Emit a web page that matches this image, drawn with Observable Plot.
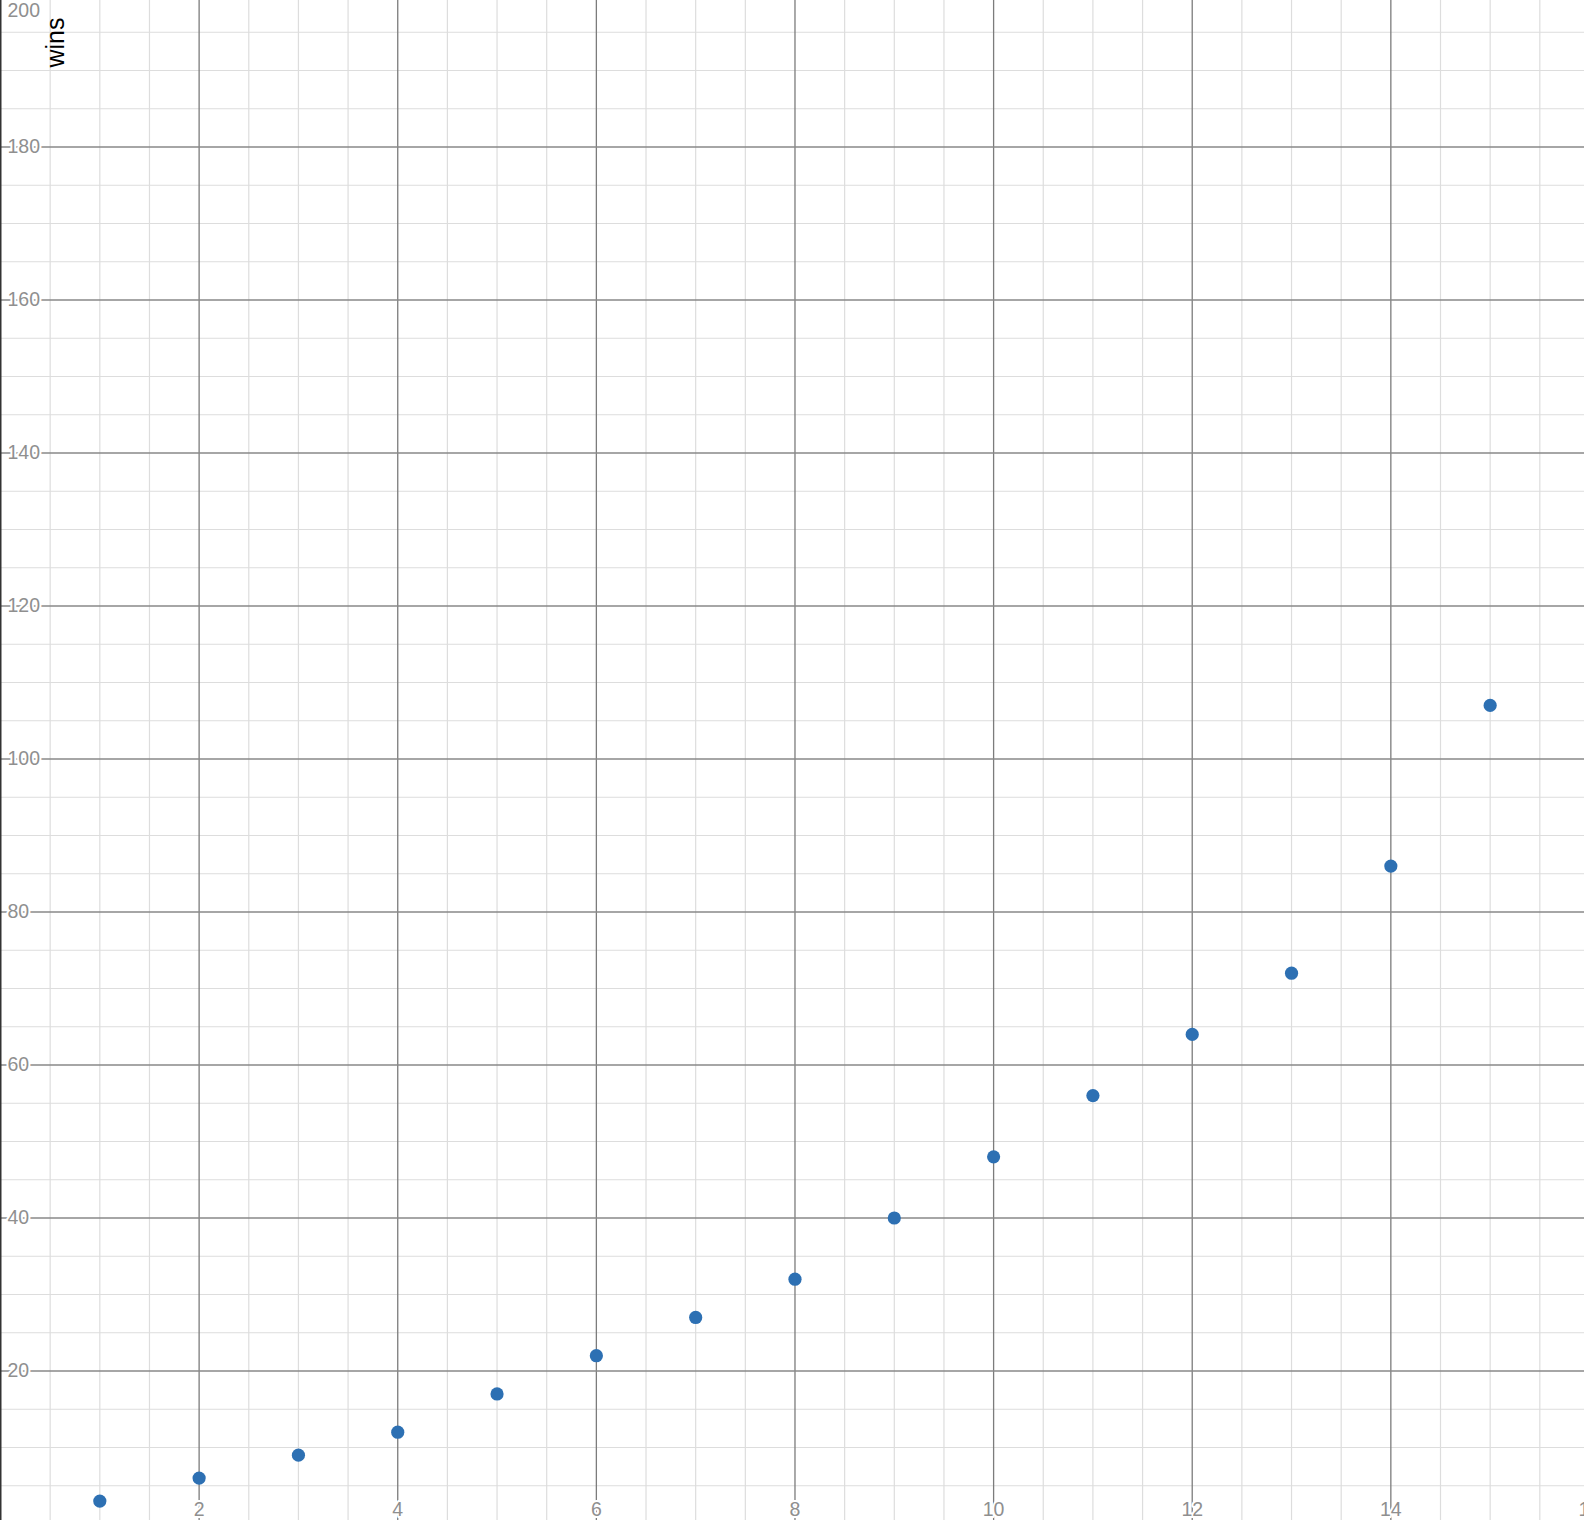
<!DOCTYPE html>
<html>
<head>
<meta charset="utf-8">
<script src="https://cdn.jsdelivr.net/npm/d3@7"></script>
<script src="https://cdn.jsdelivr.net/npm/@observablehq/plot@0.6"></script>
<style>
  html, body { margin: 0; padding: 0; background: #fff; overflow: hidden; }
  #chart svg { display: block; }
</style>
</head>
<body>
<div id="chart"></div>
<script>
// Data
const games = [1, 2, 3, 4, 5, 6, 7, 8, 9, 10, 11, 12, 13, 14, 15];
const wins  = [3, 6, 9, 12, 17, 22, 27, 32, 40, 48, 56, 64, 72, 86, 107];

// Tick labels
const xTickLabels = [2, 4, 6, 8, 10, 12, 14, 16];
const yTickLabels = [20, 40, 60, 80, 100, 120, 140, 160, 180, 200];

// Grid definitions
const xMinorGrid = d3.range(0.5, 16.01, 0.5).filter(v => v % 2 !== 0);
const yMinorGrid = d3.range(5, 201, 5).filter(v => v % 20 !== 0);
const xMajorGrid = [2, 4, 6, 8, 10, 12, 14, 16];
const yMajorGrid = yTickLabels;

const points = games.map((g, i) => ({game: g, wins: wins[i]}));

const W = 1584, H = 1520;
const xDomain = [0, 15.95];
const yDomain = [0.46, 199.15];

const labelFont = "Liberation Sans, Arial, Helvetica, sans-serif";
const labelColor = "#8f8f8f";

const chart = Plot.plot({
  width: W,
  height: H,
  margin: 0,
  style: {fontFamily: labelFont, background: "#fff"},
  x: {domain: xDomain, axis: null},
  y: {domain: yDomain, axis: null},
  marks: [
    Plot.ruleX(xMinorGrid, {stroke: "#dddddd", strokeWidth: 1.2}),
    Plot.ruleY(yMinorGrid, {stroke: "#dddddd", strokeWidth: 1.2}),
    Plot.ruleX(xMajorGrid, {stroke: "#7c7c7c", strokeWidth: 1.3}),
    Plot.ruleY(yMajorGrid, {stroke: "#888888", strokeWidth: 1.3}),
    Plot.ruleX([0], {stroke: "#333", strokeWidth: 2}),
    // y tick labels (clamped inside the view)
    Plot.text(yTickLabels, {
      x: 0,
      y: d => Math.min(d, yDomain[1] - 1.4),
      text: d => String(d),
      textAnchor: "start",
      dx: 7,
      fontSize: 19.5,
      fill: labelColor,
      stroke: "white",
      strokeWidth: 4,
      paintOrder: "stroke"
    }),
    // x tick labels clamped to the bottom edge
    Plot.text(xTickLabels, {
      x: d => d,
      frameAnchor: "bottom",
      lineAnchor: "bottom",
      dy: -5,
      text: d => String(d),
      fontSize: 19.5,
      fill: labelColor,
      stroke: "white",
      strokeWidth: 4,
      paintOrder: "stroke"
    }),
    Plot.dot(points, {x: "game", y: "wins", r: 6.6, fill: "#2d70b3", stroke: "none"}),
    // axis title
    Plot.text(["wins"], {
      frameAnchor: "top-left",
      dx: 55,
      dy: 17,
      rotate: -90,
      textAnchor: "end",
      lineAnchor: "middle",
      fontSize: 25,
      fill: "#000"
    })
  ]
});

document.getElementById("chart").appendChild(chart);
</script>
</body>
</html>
